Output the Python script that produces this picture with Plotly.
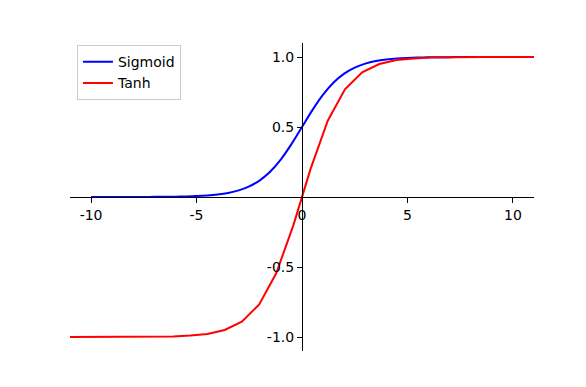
import plotly.graph_objects as go

# Sigmoid curve
sig_x = [-10, -9.5, -9, -8.5, -8, -7.5, -7, -6.5, -6, -5.5, -5, -4.5, -4, -3.5, -3, -2.5, -2, -1.5, -1, -0.5,
         0, 0.5, 1, 1.5, 2, 2.5, 3, 3.5, 4, 4.5, 5, 5.5, 6, 6.5, 7, 7.5, 8, 8.5, 9, 9.5, 10, 10.5, 11]
sig_y = [0.0000, 0.0001, 0.0001, 0.0002, 0.0003, 0.0006, 0.0009, 0.0015, 0.0025, 0.0041, 0.0067, 0.0110,
         0.0180, 0.0293, 0.0474, 0.0759, 0.1192, 0.1824, 0.2689, 0.3775, 0.5, 0.6225, 0.7311, 0.8176,
         0.8808, 0.9241, 0.9526, 0.9707, 0.9820, 0.9890, 0.9933, 0.9959, 0.9975, 0.9985, 0.9991, 0.9994,
         0.9997, 0.9998, 0.9999, 0.9999, 1.0, 1.0, 1.0]

# Tanh curve (coarse sampling)
tanh_x = [-11, -10.185, -9.370, -8.556, -7.741, -6.926, -6.111, -5.296, -4.481, -3.667, -2.852, -2.037,
          -1.222, -0.407, 0.407, 1.222, 2.037, 2.852, 3.667, 4.481, 5.296, 6.111, 6.926, 7.741, 8.556,
          9.370, 10.185, 11]
tanh_y = [-1.0, -0.9999, -0.9998, -0.9996, -0.9991, -0.9981, -0.9956, -0.990, -0.978, -0.950, -0.891,
          -0.769, -0.545, -0.201, 0.201, 0.545, 0.769, 0.891, 0.950, 0.978, 0.990, 0.9956, 0.9981,
          0.9991, 0.9996, 0.9998, 0.9999, 1.0]

x_ticks = [-10, -5, 0, 5, 10]
x_tick_text = ["-10", "-5", "0", "5", "10"]
y_ticks = [-1.0, -0.5, 0.5, 1.0]
y_tick_text = ["-1.0", "-0.5", "0.5", "1.0"]

fig = go.Figure()
fig.add_trace(go.Scatter(x=sig_x, y=sig_y, mode="lines", name="Sigmoid",
                         line=dict(color="blue", width=2, shape="spline")))
fig.add_trace(go.Scatter(x=tanh_x, y=tanh_y, mode="lines", name="Tanh",
                         line=dict(color="red", width=2)))

font = dict(family="DejaVu Sans", size=14, color="black")
fig.update_layout(
    width=586, height=387,
    margin=dict(l=62, r=60, t=35, b=44),
    plot_bgcolor="white", paper_bgcolor="white",
    font=font,
    showlegend=True,
    legend=dict(x=0.015, y=0.993, xanchor="left", yanchor="top",
                bgcolor="rgba(255,255,255,0.8)", bordercolor="#cccccc", borderwidth=1,
                font=dict(family="DejaVu Sans", size=14), tracegroupgap=0, itemwidth=30),
    xaxis=dict(range=[-11, 11], tickvals=x_ticks, ticktext=x_tick_text,
               showgrid=False, zeroline=False, showline=True, linecolor="black", linewidth=1,
               ticks="outside", ticklen=5, tickcolor="black", tickwidth=1,
               anchor="free", position=0.5),
    yaxis=dict(range=[-1.1, 1.1], tickvals=y_ticks, ticktext=y_tick_text,
               showgrid=False, zeroline=False, showline=True, linecolor="black", linewidth=1,
               ticks="outside", ticklen=5, tickcolor="black", tickwidth=1,
               anchor="free", position=0.5),
)

fig.write_html("out.html")
